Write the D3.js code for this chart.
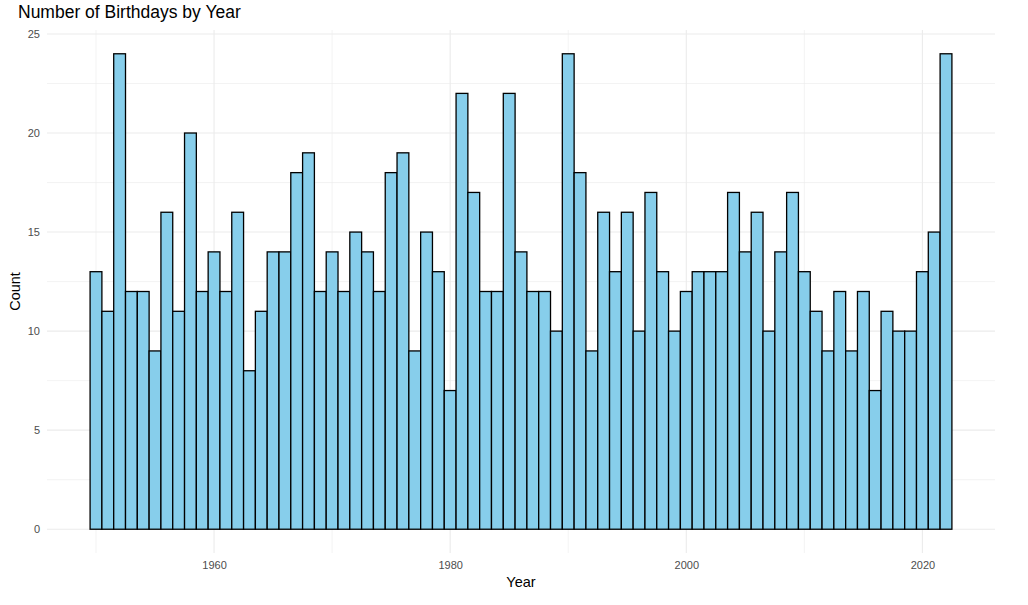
<!DOCTYPE html>
<html>
<head>
<meta charset="utf-8">
<script src="https://cdn.jsdelivr.net/npm/d3@7"></script>
<style>
  body { margin: 0; background: #fff; }
  text { font-family: "Liberation Sans", Arial, sans-serif; }
</style>
</head>
<body>
<div id="chart-area"></div>
<script>
// data
let firstYear = 1950;
let counts = [13, 11, 24, 12, 12, 9, 16, 11, 20, 12,
              14, 12, 16, 8, 11, 14, 14, 18, 19, 12,
              14, 12, 15, 14, 12, 18, 19, 9, 15, 13,
              7, 22, 17, 12, 12, 22, 14, 12, 12, 10,
              24, 18, 9, 16, 13, 16, 10, 17, 13, 10,
              12, 13, 13, 13, 17, 14, 16, 10, 14, 17,
              13, 11, 9, 12, 9, 12, 7, 11, 10, 10,
              13, 15, 24];
let xTicks = [1960, 1980, 2000, 2020];
let xMinor = [1950, 1970, 1990, 2010];
let yTicks = [0, 5, 10, 15, 20, 25];
let yMinor = [2.5, 7.5, 12.5, 17.5, 22.5];

let data = counts.map(function(c, i) { return {year: firstYear + i, count: c}; });

// Variable
let W = 1028, H = 605;
let m = {top: 30, right: 33, bottom: 52, left: 47};
let w = W - m.left - m.right;
let h = H - m.top - m.bottom;

let svg = d3.select("#chart-area")
    .append("svg")
    .attr("width", W)
    .attr("height", H);

let g = svg.append("g")
    .attr("transform", "translate(" + m.left + "," + m.top + ")");

// scales (ggplot style 5% expansion)
let xLo = firstYear - 0.5, xHi = firstYear + counts.length - 0.5;
let xPad = (xHi - xLo) * 0.05;
let x = d3.scaleLinear()
    .domain([xLo - xPad, xHi + xPad])
    .range([0, w]);

let yMax = d3.max(counts);
let y = d3.scaleLinear()
    .domain([-yMax * 0.05, yMax * 1.05])
    .range([h, 0]);

// grid
g.selectAll(".xminor").data(xMinor).enter().append("line")
    .attr("x1", d => x(d)).attr("x2", d => x(d))
    .attr("y1", 0).attr("y2", h)
    .attr("stroke", "#ebebeb").attr("stroke-width", 0.6);
g.selectAll(".yminor").data(yMinor).enter().append("line")
    .attr("x1", 0).attr("x2", w)
    .attr("y1", d => y(d)).attr("y2", d => y(d))
    .attr("stroke", "#ebebeb").attr("stroke-width", 0.6);
g.selectAll(".xmajor").data(xTicks).enter().append("line")
    .attr("x1", d => x(d)).attr("x2", d => x(d))
    .attr("y1", 0).attr("y2", h)
    .attr("stroke", "#ebebeb").attr("stroke-width", 1.1);
g.selectAll(".ymajor").data(yTicks).enter().append("line")
    .attr("x1", 0).attr("x2", w)
    .attr("y1", d => y(d)).attr("y2", d => y(d))
    .attr("stroke", "#ebebeb").attr("stroke-width", 1.1);

// bars
g.selectAll("rect")
    .data(data)
    .enter()
    .append("rect")
      .attr("x", d => x(d.year - 0.5))
      .attr("y", d => y(d.count))
      .attr("width", d => x(d.year + 0.5) - x(d.year - 0.5))
      .attr("height", d => y(0) - y(d.count))
      .attr("fill", "#87ceeb")
      .attr("stroke", "#000")
      .attr("stroke-width", 1.3);

// Axis
let xAxisCall = d3.axisBottom(x).tickValues(xTicks).tickSize(0).tickPadding(8).tickFormat(d3.format("d"));
let xa = g.append("g")
    .attr("transform", "translate(0," + h + ")")
    .call(xAxisCall);
xa.select(".domain").remove();
xa.selectAll("text").attr("font-size", "11px").attr("fill", "#4d4d4d")
    .attr("font-family", "Liberation Sans, Arial, sans-serif");

let yAxisCall = d3.axisLeft(y).tickValues(yTicks).tickSize(0).tickPadding(7);
let ya = g.append("g").call(yAxisCall);
ya.select(".domain").remove();
ya.selectAll("text").attr("font-size", "11px").attr("fill", "#4d4d4d")
    .attr("font-family", "Liberation Sans, Arial, sans-serif");

// Labels
g.append("text")
    .attr("x", w / 2)
    .attr("y", h + 34)
    .attr("font-size", "14.5px")
    .attr("text-anchor", "middle")
    .attr("fill", "#000")
    .text("Year");

g.append("text")
    .attr("x", -(h / 2))
    .attr("y", -27)
    .attr("font-size", "14.5px")
    .attr("text-anchor", "middle")
    .attr("transform", "rotate(-90)")
    .attr("fill", "#000")
    .text("Count");

svg.append("text")
    .attr("x", 18)
    .attr("y", 18)
    .attr("font-size", "17.5px")
    .attr("fill", "#000")
    .text("Number of Birthdays by Year");
</script>
</body>
</html>
